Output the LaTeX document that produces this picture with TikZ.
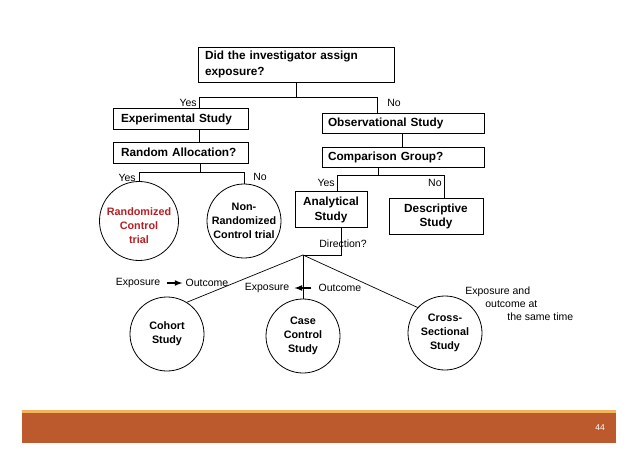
\documentclass[tikz,border=0pt]{standalone}
\usepackage{fontspec}
\setmainfont{Liberation Sans}
\definecolor{barorange}{HTML}{BC5A2E}
\definecolor{lineorange}{HTML}{F4B45E}
\definecolor{rctred}{HTML}{B52025}

\tikzset{
  box/.style={draw, line width=0.8pt, inner sep=0pt, font=\fontsize{11.8}{14}\selectfont\bfseries},
  circ/.style={draw, circle, line width=0.8pt, minimum size=74pt, inner sep=0pt, align=center, font=\fontsize{10.8}{14}\selectfont\bfseries},
  lbl/.style={font=\fontsize{10.5}{12}\selectfont, inner sep=1pt},
}

\begin{document}
\begin{tikzpicture}[x=1pt, y=-1pt, line width=0.7pt]

\useasboundingbox[fill=white] (0,0) rectangle (638,452);

% Question boxes
\node[box, minimum width=196pt, minimum height=35pt, text width=182pt, align=left, font=\fontsize{11.8}{16}\selectfont\bfseries] (assign) at (296,64.5) {Did the investigator assign\\exposure?};
\node[box, minimum width=135pt, minimum height=21pt, text width=119pt, align=left] (expst) at (180.5,119) {Experimental Study};
\node[box, minimum width=135pt, minimum height=21pt, text width=119pt, align=left] (randq) at (180.5,152.5) {Random Allocation?};
\node[box, minimum width=162pt, minimum height=20pt, text width=150pt, align=left] (obsst) at (403,123) {Observational Study};
\node[box, minimum width=162pt, minimum height=20pt, text width=150pt, align=left] (cmpq) at (403,157.5) {Comparison Group?};
\node[box, minimum width=72pt, minimum height=36pt, align=center, font=\fontsize{11.8}{15}\selectfont\bfseries] (anast) at (331,209.5) {Analytical\\Study};
\node[box, minimum width=94pt, minimum height=36pt, align=center] (desst) at (436,216) {Descriptive\\Study};

% Study circles
\node[circ, text=rctred] (rct) at (139,221) {\rule{0pt}{18pt}Randomized\\Control\\trial};
\node[circ] (nrct) at (244,221) {Non-\\Randomized\\Control trial};
\node[circ] (coh) at (167,334) {Cohort\\Study};
\node[circ] (cc) at (303,336) {Case\\Control\\Study};
\node[circ] (cs) at (445,333) {Cross-\\Sectional\\Study};

% First split
\coordinate (yesA) at (199,97);
\coordinate (noA) at (377,97);
\draw (assign.south) -- (assign.south |- yesA);
\draw (yesA) -- (noA);
\draw (yesA) -- (yesA |- expst.north);
\draw (noA) -- (noA |- obsst.north);
\node[lbl, anchor=east] (yesAl) at (198,103) {Yes};
\node[lbl, anchor=west] (noAl) at (386,103) {No};

% Experimental branch
\draw (yesA |- expst.south) -- (yesA |- randq.north);
\coordinate (splitB) at (200,172);
\draw (splitB |- randq.south) -- (splitB);
\draw (rct.north |- splitB) -- (nrct.north |- splitB);
\draw (rct.north |- splitB) -- (rct.north);
\draw (nrct.north |- splitB) -- (nrct.north);
\node[lbl, anchor=east] (yesBl) at (137,178) {Yes};
\node[lbl, anchor=west] (noBl) at (252,177) {No};

% Observational branch
\draw ([xshift=-1pt]obsst.south) -- ([xshift=-1pt]cmpq.north);
\coordinate (splitC) at (378,175);
\coordinate (yesC) at (337,175);
\coordinate (noC) at (444,175);
\draw (splitC |- cmpq.south) -- (splitC);
\draw (yesC) -- (noC);
\draw (yesC) -- (yesC |- anast.north);
\draw (noC) -- (noC |- desst.north);
\node[lbl, anchor=east] (yesCl) at (336,183) {Yes};
\node[lbl, anchor=east] (noCl) at (443,183) {No};

% Direction of analytical studies
\coordinate (dirtop) at (341,255);
\coordinate (dir) at (303,255);
\draw (dirtop |- anast.south) -- (dirtop) -- (dir);
\node[lbl] (dirq) at (343,244) {Direction?};
\draw (dir) -- (coh.58);
\draw (dir) -- (cc.north);
\draw (dir) -- (cs.137);

% Exposure / outcome notes
\node[lbl] (ex1) at (138,283) {Exposure};
\node[lbl] (oc1) at (207,283) {Outcome};
\draw[-latex, line width=1.6pt, shorten <=5pt, shorten >=2pt] (ex1) -- (oc1);
\node[lbl] (ex2) at (267,288) {Exposure};
\node[lbl] (oc2) at (340,288) {Outcome};
\draw[-latex, line width=1.6pt, shorten <=6pt, shorten >=4pt] (oc2) -- (ex2);
\node[lbl, anchor=north west, align=left, font=\fontsize{10.5}{13}\selectfont] (same) at (464,286) {Exposure and\\\hspace{20pt}outcome at\\\hspace{42pt}the same time};

% Footer bar
\fill[lineorange] (22,409.5) rectangle (616,412.5);
\fill[barorange] (22,412.5) rectangle (616,443);
\node[text=white, font=\fontsize{8.5}{9}\selectfont] (pagenum) at (600,428) {44};

\end{tikzpicture}
\end{document}
